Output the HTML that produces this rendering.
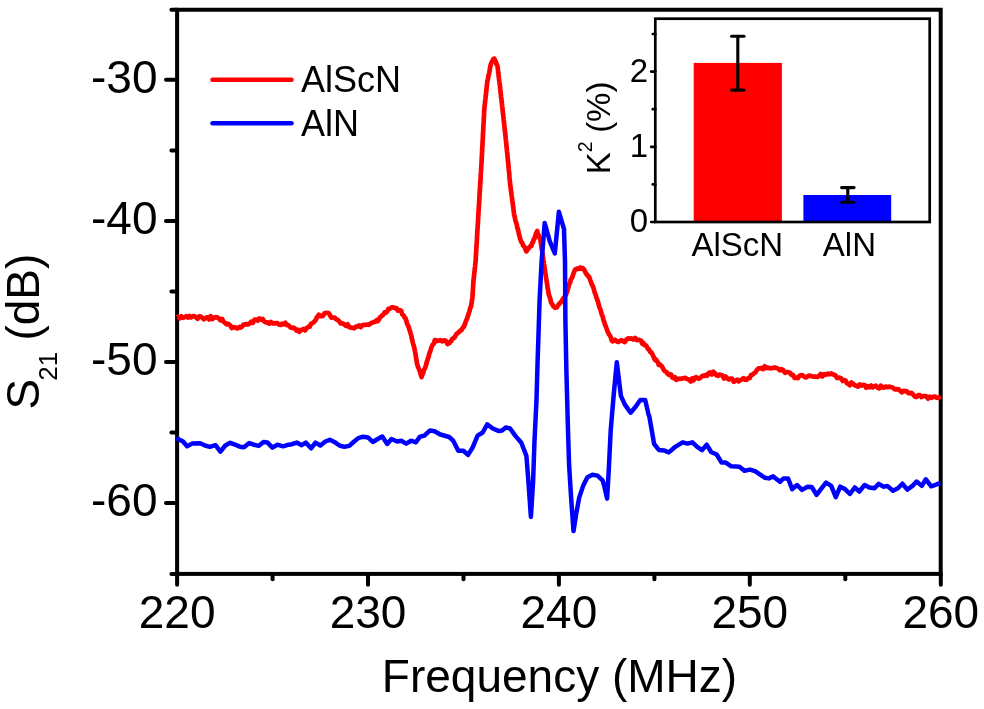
<!DOCTYPE html>
<html lang="en">
<head>
<meta charset="utf-8">
<title>S21 vs Frequency</title>
<style>
html,body{margin:0;padding:0;background:#fff;}
body{width:984px;height:709px;overflow:hidden;}
svg{display:block;font-family:"Liberation Sans",sans-serif;fill:#000;}
.ax line,.ax rect{stroke:#000;stroke-width:4;stroke-linecap:round;fill:none;}
.iax line,.iax rect{stroke:#000;stroke-width:2.7;stroke-linecap:round;fill:none;}
.iax .eb line{stroke-width:3.1;}
.t46{font-size:46px;}
.t36{font-size:36px;}
.t32{font-size:32px;}
.t33{font-size:33px;}
.crv{fill:none;stroke-width:4.5;stroke-linejoin:round;stroke-linecap:round;}
</style>
</head>
<body>
<svg width="984" height="709" viewBox="0 0 984 709">
<rect x="0" y="0" width="984" height="709" fill="#fff"/>

<!-- main axes -->
<g class="ax">
<rect x="177.1" y="9.75" width="763.6" height="564.15"/>
<line x1="177.1" y1="573.9" x2="177.1" y2="584.8"/><line x1="272.6" y1="573.9" x2="272.6" y2="579.2"/><line x1="368.0" y1="573.9" x2="368.0" y2="584.8"/><line x1="463.5" y1="573.9" x2="463.5" y2="579.2"/><line x1="558.9" y1="573.9" x2="558.9" y2="584.8"/><line x1="654.4" y1="573.9" x2="654.4" y2="579.2"/><line x1="749.8" y1="573.9" x2="749.8" y2="584.8"/><line x1="845.3" y1="573.9" x2="845.3" y2="579.2"/><line x1="940.8" y1="573.9" x2="940.8" y2="584.8"/><line x1="177.1" y1="573.9" x2="171.4" y2="573.9"/><line x1="177.1" y1="503.1" x2="166.0" y2="503.1"/><line x1="177.1" y1="432.5" x2="171.4" y2="432.5"/><line x1="177.1" y1="362.0" x2="166.0" y2="362.0"/><line x1="177.1" y1="291.5" x2="171.4" y2="291.5"/><line x1="177.1" y1="220.9" x2="166.0" y2="220.9"/><line x1="177.1" y1="150.4" x2="171.4" y2="150.4"/><line x1="177.1" y1="79.8" x2="166.0" y2="79.8"/><line x1="177.1" y1="9.8" x2="171.4" y2="9.8"/>
</g>
<g class="t46"><text x="177.1" y="628.2" text-anchor="middle">220</text><text x="368.0" y="628.2" text-anchor="middle">230</text><text x="558.9" y="628.2" text-anchor="middle">240</text><text x="749.8" y="628.2" text-anchor="middle">250</text><text x="940.8" y="628.2" text-anchor="middle">260</text><text x="157.5" y="92.6" text-anchor="end">-30</text><text x="157.5" y="233.7" text-anchor="end">-40</text><text x="157.5" y="374.8" text-anchor="end">-50</text><text x="157.5" y="515.9" text-anchor="end">-60</text>
<text x="559.5" y="692" text-anchor="middle">Frequency (MHz)</text>
<text transform="translate(38.6,409.5) rotate(-90)">S<tspan font-size="26" dy="18" dx="-2">21</tspan><tspan dy="-18" dx="-1.5"> (dB)</tspan></text>
</g>

<!-- data curves -->
<path class="crv" stroke="#ff0000" style="stroke-width:4.7;stroke-linecap:butt" d="M177.3,317.3 L178.1,316.7 L179.8,318.4 L181.4,316.3 L183.0,317.9 L184.6,317.2 L186.3,316.1 L187.9,317.7 L189.5,316.0 L191.1,317.4 L192.8,316.1 L194.4,316.2 L196.0,317.4 L197.6,318.8 L199.3,316.3 L200.9,316.6 L202.5,318.1 L204.1,319.3 L205.8,317.9 L207.4,317.3 L209.0,319.4 L210.7,316.1 L212.3,319.1 L213.9,317.5 L215.5,317.2 L217.2,317.4 L218.8,318.3 L220.4,320.3 L222.0,318.9 L223.1,321.0 L224.2,322.4 L225.3,323.0 L226.6,324.3 L227.9,323.8 L229.2,324.6 L230.5,325.8 L231.8,328.0 L233.4,327.4 L235.0,327.2 L236.7,328.3 L238.3,328.1 L239.6,326.9 L240.9,327.5 L242.2,326.5 L243.5,324.5 L244.8,324.7 L246.4,324.0 L248.0,324.5 L249.7,323.5 L251.3,321.6 L252.9,322.8 L254.6,319.5 L256.2,319.5 L257.8,320.7 L259.4,318.5 L261.1,319.7 L262.7,319.0 L264.3,321.5 L265.9,322.4 L267.6,322.4 L269.2,323.6 L270.8,321.9 L272.4,323.4 L274.1,323.2 L275.7,323.3 L277.3,323.0 L278.9,324.5 L280.6,325.0 L282.2,323.6 L283.8,324.4 L285.4,322.8 L287.1,325.2 L288.7,325.4 L290.3,327.4 L292.0,328.0 L293.6,327.6 L295.0,328.8 L296.4,330.5 L297.8,329.7 L299.3,331.8 L300.7,330.4 L302.2,329.6 L303.7,328.9 L305.1,330.4 L306.6,328.1 L307.7,327.3 L308.8,326.6 L309.8,326.7 L310.9,323.7 L312.0,323.5 L313.1,322.6 L314.0,322.1 L315.0,320.8 L315.9,319.7 L316.9,317.2 L317.8,316.2 L318.8,314.7 L320.7,316.2 L322.6,316.2 L324.5,313.2 L326.5,312.9 L328.5,313.0 L329.5,314.3 L330.4,316.1 L331.4,317.7 L333.0,317.5 L334.6,317.5 L336.3,319.4 L337.9,320.0 L339.2,321.4 L340.6,323.3 L342.0,323.4 L343.3,323.7 L344.7,324.8 L346.0,325.9 L347.6,324.2 L349.3,327.3 L350.9,327.4 L352.5,328.0 L354.1,328.3 L355.8,326.7 L357.4,326.6 L359.0,325.5 L360.7,327.2 L362.3,325.2 L363.9,324.8 L365.5,325.0 L367.2,324.5 L368.8,324.8 L370.4,323.7 L371.7,322.8 L373.0,322.5 L374.3,321.6 L375.6,321.6 L376.9,320.1 L378.0,321.0 L379.1,319.3 L380.2,317.1 L381.2,316.3 L382.3,315.4 L383.4,314.4 L384.6,312.4 L385.9,312.7 L387.1,311.6 L388.3,308.9 L389.9,308.9 L391.5,307.4 L393.2,307.4 L394.8,308.2 L396.4,308.1 L398.0,310.7 L399.7,310.0 L401.3,311.0 L402.1,314.2 L402.9,314.8 L403.7,315.5 L404.6,317.7 L405.4,318.1 L406.2,320.4 L406.7,322.5 L407.2,323.8 L407.7,325.0 L408.2,325.7 L408.7,327.3 L409.2,328.4 L409.7,330.8 L410.2,331.8 L410.6,333.6 L411.0,334.5 L411.4,335.9 L411.7,338.1 L412.1,339.8 L412.5,341.1 L412.8,342.5 L413.2,344.0 L413.6,345.4 L413.9,346.2 L414.3,348.1 L414.6,349.4 L414.9,350.6 L415.1,352.1 L415.4,353.8 L415.7,355.3 L415.9,357.2 L416.2,358.9 L416.5,359.9 L416.7,361.9 L417.0,363.4 L417.3,364.9 L417.6,365.7 L418.1,367.0 L418.7,368.5 L419.3,370.0 L419.9,371.5 L420.5,373.7 L421.0,375.6 L421.6,377.0 L422.2,375.0 L422.8,373.7 L423.4,372.4 L423.9,369.8 L424.5,369.2 L425.1,368.1 L425.7,366.3 L426.1,364.8 L426.6,362.9 L427.0,361.1 L427.5,360.4 L427.9,358.3 L428.4,357.5 L428.8,356.2 L429.2,354.0 L429.7,352.5 L430.1,351.8 L430.6,350.1 L431.3,347.6 L432.0,346.0 L432.7,344.5 L433.4,344.3 L434.1,342.7 L434.8,340.0 L435.4,340.1 L437.1,341.1 L438.7,340.6 L440.3,340.2 L442.0,341.4 L443.8,340.4 L445.6,340.5 L447.4,344.0 L449.3,343.2 L450.3,341.6 L451.3,341.1 L452.3,338.7 L453.3,338.4 L454.8,337.1 L456.2,334.3 L457.6,333.2 L459.0,332.1 L460.2,330.6 L461.5,330.0 L462.7,327.8 L463.9,326.8 L464.4,324.9 L464.9,324.7 L465.4,322.4 L465.9,321.2 L466.4,319.9 L467.0,319.0 L467.5,316.8 L468.0,316.1 L468.5,313.9 L469.1,312.3 L469.6,310.7 L470.1,308.3 L470.7,307.3 L471.2,305.5 L471.4,303.8 L471.7,302.8 L471.9,300.8 L472.1,299.4 L472.3,298.0 L472.5,296.3 L472.6,294.6 L472.7,293.0 L472.8,291.4 L472.9,289.9 L473.0,288.0 L473.1,286.5 L473.2,284.8 L473.3,283.2 L473.4,281.7 L473.5,280.0 L473.7,278.5 L473.9,277.1 L474.0,275.7 L474.2,273.8 L474.4,272.4 L474.6,270.8 L474.7,269.3 L474.9,267.9 L475.1,266.2 L475.2,264.7 L475.4,263.1 L475.6,261.8 L475.7,260.2 L475.8,258.7 L475.8,257.2 L475.9,255.4 L476.0,254.0 L476.1,252.6 L476.2,251.0 L476.3,249.2 L476.4,247.6 L476.5,246.2 L476.6,244.5 L476.7,243.0 L476.8,241.4 L476.9,240.1 L477.0,238.6 L477.0,237.1 L477.1,235.3 L477.2,234.0 L477.3,232.4 L477.4,230.7 L477.5,229.4 L477.6,227.9 L477.7,226.1 L477.8,224.8 L477.9,223.1 L478.0,221.6 L478.1,220.2 L478.2,218.6 L478.2,216.8 L478.3,215.4 L478.4,213.9 L478.5,212.3 L478.6,210.7 L478.7,209.2 L478.8,207.8 L478.9,206.0 L479.0,204.7 L479.1,203.1 L479.2,201.4 L479.3,200.0 L479.4,198.5 L479.4,197.0 L479.5,195.2 L479.6,194.1 L479.7,192.4 L479.8,191.0 L479.9,189.1 L480.0,187.6 L480.1,186.0 L480.2,184.7 L480.3,183.0 L480.4,181.4 L480.5,180.0 L480.6,178.6 L480.7,177.1 L480.7,175.3 L480.8,173.7 L480.9,172.5 L481.0,170.8 L481.1,169.3 L481.2,167.5 L481.3,166.0 L481.4,164.7 L481.5,163.1 L481.6,161.4 L481.7,160.1 L481.7,158.5 L481.8,157.0 L481.9,155.2 L482.0,154.0 L482.1,152.1 L482.1,150.9 L482.2,149.2 L482.3,147.6 L482.4,146.1 L482.5,144.7 L482.5,143.0 L482.6,141.4 L482.7,140.0 L482.8,138.3 L482.9,136.7 L482.9,135.2 L483.0,133.6 L483.1,132.1 L483.2,130.6 L483.3,129.1 L483.3,127.7 L483.4,126.0 L483.5,124.5 L483.6,122.9 L483.7,121.4 L483.7,119.7 L483.8,118.3 L483.9,116.7 L484.0,115.4 L484.1,113.7 L484.1,112.1 L484.2,110.6 L484.3,109.4 L484.5,107.3 L484.6,106.2 L484.8,104.4 L485.0,102.9 L485.1,101.5 L485.3,99.7 L485.5,98.2 L485.6,96.8 L485.8,95.4 L486.0,93.5 L486.2,92.2 L486.3,90.6 L486.5,89.0 L486.7,87.3 L486.8,85.7 L487.0,84.0 L487.2,82.3 L487.5,80.7 L487.8,79.9 L488.1,77.9 L488.4,76.2 L488.7,74.6 L489.0,73.9 L489.3,72.4 L489.6,70.7 L489.9,68.7 L490.2,67.2 L490.5,65.7 L490.8,64.3 L491.7,62.1 L492.5,61.0 L493.4,59.1 L494.3,58.6 L494.8,60.0 L495.4,60.8 L495.9,61.8 L496.4,64.3 L497.0,64.7 L497.5,66.3 L497.7,67.6 L497.9,69.5 L498.1,71.1 L498.3,72.7 L498.5,74.0 L498.6,75.8 L498.8,77.0 L499.0,78.8 L499.2,80.2 L499.4,82.0 L499.6,83.3 L499.8,84.9 L500.0,86.6 L500.1,88.1 L500.3,89.9 L500.5,91.4 L500.7,93.1 L500.9,94.6 L501.0,96.2 L501.2,97.9 L501.4,99.1 L501.6,100.6 L501.8,102.6 L501.9,103.6 L502.1,105.6 L502.3,107.1 L502.5,108.2 L502.6,110.3 L502.8,111.9 L503.0,113.3 L503.2,114.8 L503.3,116.4 L503.5,117.4 L503.6,119.2 L503.8,120.7 L504.0,122.4 L504.1,123.8 L504.3,125.4 L504.5,126.7 L504.6,128.4 L504.8,129.8 L504.9,131.3 L505.1,132.5 L505.3,133.8 L505.4,135.4 L505.6,137.0 L505.7,138.4 L505.9,140.3 L506.1,141.7 L506.2,143.3 L506.4,144.8 L506.5,146.4 L506.7,147.9 L506.8,149.1 L507.0,151.2 L507.2,152.7 L507.3,154.1 L507.5,155.7 L507.6,157.4 L507.8,158.6 L507.9,160.5 L508.1,161.8 L508.2,163.3 L508.4,165.0 L508.5,166.8 L508.7,168.1 L508.8,169.9 L509.0,171.6 L509.1,172.9 L509.3,174.4 L509.4,176.1 L509.5,177.7 L509.7,179.3 L509.8,180.8 L510.0,182.4 L510.1,183.6 L510.3,185.2 L510.5,186.8 L510.7,188.7 L510.9,190.0 L511.1,191.7 L511.3,192.8 L511.5,194.4 L511.7,196.1 L512.0,198.0 L512.2,199.5 L512.4,201.1 L512.6,202.3 L512.8,204.0 L513.0,205.6 L513.2,207.1 L513.4,208.4 L513.6,210.5 L513.8,211.6 L514.0,213.7 L514.2,215.4 L514.6,215.8 L514.9,217.9 L515.3,219.8 L515.7,221.5 L516.1,222.4 L516.5,223.7 L516.9,225.2 L517.2,227.6 L517.6,228.3 L518.0,230.2 L518.4,231.2 L518.8,233.2 L519.1,235.2 L519.5,235.8 L519.9,238.1 L520.3,239.3 L521.0,241.3 L521.6,242.3 L522.3,242.8 L523.0,245.4 L523.7,246.0 L524.3,246.5 L525.0,247.9 L525.7,250.1 L526.4,251.4 L527.4,249.8 L528.4,248.2 L529.4,247.5 L530.4,246.2 L531.5,245.9 L532.0,243.1 L532.6,242.9 L533.2,241.6 L533.7,239.1 L534.3,238.9 L534.9,237.2 L535.4,236.0 L536.0,233.6 L536.6,232.4 L537.2,231.0 L537.6,233.3 L538.1,234.2 L538.6,235.3 L539.1,236.8 L539.6,238.1 L540.1,239.2 L540.6,241.0 L540.8,243.1 L541.1,244.2 L541.3,246.4 L541.5,247.3 L541.8,248.9 L542.0,250.7 L542.3,252.0 L542.5,253.7 L542.7,255.8 L543.0,257.3 L543.2,258.8 L543.4,260.2 L543.7,262.0 L543.9,263.6 L544.1,264.8 L544.4,266.5 L544.6,267.5 L544.8,269.6 L545.1,271.0 L545.3,272.8 L545.5,274.3 L545.8,275.5 L546.0,276.9 L546.2,279.2 L546.5,280.1 L546.7,281.9 L547.0,283.3 L547.2,284.8 L547.5,286.8 L547.7,288.5 L548.0,289.4 L548.2,291.3 L548.5,292.5 L548.7,294.3 L549.2,295.5 L549.6,296.7 L550.0,298.1 L550.5,299.6 L550.9,302.0 L551.4,302.9 L551.8,303.6 L553.5,306.5 L555.2,307.8 L556.9,307.3 L557.9,305.4 L558.9,304.3 L559.9,302.9 L560.9,302.2 L562.0,300.6 L562.8,299.3 L563.6,297.8 L564.5,296.9 L565.3,296.0 L566.2,294.2 L567.0,292.1 L567.5,290.6 L567.9,289.3 L568.3,287.6 L568.8,286.1 L569.2,284.3 L569.6,283.1 L570.1,282.7 L570.7,279.8 L571.4,278.9 L572.0,277.6 L572.6,276.4 L573.3,273.9 L573.9,272.4 L574.5,270.9 L575.2,269.5 L576.9,268.6 L578.6,269.0 L580.2,267.5 L581.5,268.9 L582.8,268.1 L584.1,269.4 L585.3,272.2 L586.2,273.9 L587.0,274.4 L587.9,276.0 L588.7,276.2 L589.6,278.3 L590.4,280.6 L590.9,281.8 L591.4,283.3 L591.9,284.9 L592.4,285.2 L592.9,286.4 L593.5,287.9 L594.0,289.9 L594.5,291.6 L595.0,293.4 L595.5,294.5 L595.9,295.8 L596.4,297.5 L596.9,298.5 L597.3,300.2 L597.8,300.9 L598.3,303.4 L598.7,304.2 L599.2,306.6 L599.6,307.7 L600.1,308.7 L600.6,310.0 L601.0,311.6 L601.5,313.6 L602.0,315.2 L602.4,315.9 L602.9,317.3 L603.3,319.4 L603.8,320.9 L604.3,322.2 L604.7,323.4 L605.2,325.4 L605.7,325.9 L606.3,327.8 L606.9,329.5 L607.6,331.7 L608.2,332.5 L608.9,334.3 L609.5,335.0 L610.2,336.0 L610.8,337.4 L611.5,340.0 L612.1,341.0 L612.8,341.4 L615.0,339.8 L616.7,341.4 L618.3,341.9 L620.0,340.9 L621.6,340.1 L623.3,341.3 L624.9,342.0 L626.5,339.5 L628.1,338.3 L629.8,338.7 L631.4,338.4 L633.2,339.5 L635.0,337.9 L636.9,340.1 L638.7,339.8 L639.8,340.2 L641.0,340.5 L642.1,343.5 L643.3,342.9 L644.4,345.1 L645.5,345.1 L646.7,346.4 L647.8,348.9 L648.9,349.1 L650.1,351.8 L650.9,352.2 L651.7,353.0 L652.5,354.4 L653.3,356.2 L654.1,358.0 L655.0,360.0 L655.9,359.5 L656.9,361.2 L657.8,362.1 L658.8,364.9 L659.7,364.3 L660.7,365.2 L661.8,366.3 L663.0,368.2 L664.1,370.5 L665.3,371.5 L666.5,372.1 L667.6,373.8 L668.8,374.8 L670.0,374.2 L671.2,374.7 L672.4,377.6 L673.7,378.1 L674.9,377.2 L676.1,379.9 L677.9,378.9 L679.8,378.9 L681.6,378.7 L683.4,378.2 L685.2,377.9 L687.1,379.0 L688.9,379.5 L690.7,381.5 L692.2,378.4 L693.6,380.3 L695.0,377.5 L696.4,377.2 L698.0,378.6 L699.7,378.4 L701.3,376.9 L702.9,375.6 L704.4,376.0 L705.9,374.9 L707.3,375.7 L708.8,372.8 L710.2,372.4 L711.9,374.4 L713.5,371.8 L715.1,373.4 L716.5,375.3 L718.0,375.9 L719.4,374.5 L720.8,375.0 L722.4,375.4 L724.1,378.5 L725.7,376.6 L727.3,378.5 L728.9,379.5 L730.6,378.5 L732.2,378.9 L733.8,381.8 L735.4,380.7 L737.1,379.6 L738.7,381.3 L740.3,380.1 L742.0,379.4 L743.6,378.1 L745.2,379.9 L746.8,379.7 L748.3,378.1 L749.7,378.2 L751.1,374.8 L752.5,374.7 L753.6,373.6 L754.7,373.0 L755.8,371.8 L757.2,369.5 L758.6,368.4 L760.0,368.4 L761.5,367.9 L763.1,369.1 L764.7,366.3 L766.3,368.1 L768.0,367.6 L769.6,368.2 L771.2,368.3 L772.8,368.0 L774.5,367.4 L776.3,367.9 L778.2,368.6 L780.0,370.4 L781.6,369.2 L783.3,370.3 L784.9,372.8 L786.5,372.1 L788.1,372.2 L789.8,372.7 L791.4,375.0 L793.0,374.9 L794.6,377.8 L796.3,377.6 L797.9,378.1 L799.5,375.7 L801.1,375.2 L802.8,375.4 L804.4,376.9 L806.0,377.5 L807.6,376.4 L809.3,375.5 L810.9,376.0 L812.5,376.5 L814.1,376.6 L815.8,376.7 L817.4,376.9 L819.0,376.1 L820.7,374.1 L822.3,376.4 L824.1,374.2 L825.9,374.7 L827.8,373.7 L829.6,374.4 L831.1,373.4 L832.5,374.2 L834.0,374.9 L835.4,375.2 L836.9,378.0 L838.4,377.8 L839.8,377.7 L841.3,378.6 L842.8,381.0 L844.2,380.2 L845.6,380.6 L846.9,383.1 L848.3,383.9 L849.9,385.3 L851.5,382.5 L853.2,383.9 L854.8,385.2 L856.4,385.8 L858.0,386.6 L859.7,384.4 L861.3,385.6 L862.9,384.9 L864.6,385.1 L866.2,387.7 L867.8,386.2 L869.4,387.3 L871.1,385.6 L872.7,387.4 L874.3,386.2 L875.9,385.7 L877.6,387.6 L879.2,388.4 L880.8,385.6 L882.4,387.5 L884.1,387.7 L885.7,386.5 L887.3,387.2 L888.9,386.6 L890.6,387.0 L892.2,387.3 L893.8,388.6 L895.4,389.5 L897.1,389.1 L898.7,389.3 L900.3,391.0 L902.0,392.3 L903.6,390.8 L905.2,391.4 L906.8,391.2 L908.5,393.2 L909.8,393.3 L911.1,392.8 L912.4,393.7 L913.7,395.3 L915.0,396.6 L916.6,396.9 L918.2,395.0 L919.8,395.2 L921.5,397.1 L923.1,396.1 L924.7,396.0 L926.3,396.3 L928.0,398.7 L929.6,396.8 L931.2,397.9 L933.0,396.9 L934.9,396.6 L936.7,397.7 L938.5,397.8 L940.6,396.2"/>
<path class="crv" stroke="#0000ff" style="stroke-linecap:butt" d="M177.0,437.2 L178.1,439.0 L183.0,441.5 L187.1,446.3 L192.0,443.6 L200.1,443.3 L205.0,445.5 L209.8,446.8 L215.5,445.2 L220.4,451.7 L225.3,445.5 L230.2,442.8 L235.0,444.7 L239.9,446.7 L244.0,447.2 L249.2,443.1 L253.7,444.7 L258.6,445.9 L263.5,442.0 L267.6,442.6 L272.4,447.6 L277.3,444.7 L283.0,446.3 L288.7,444.7 L292.0,444.2 L296.8,442.6 L301.7,445.2 L305.8,442.6 L311.1,448.3 L315.5,442.6 L320.4,445.5 L325.3,441.5 L329.8,439.8 L335.4,442.6 L339.5,445.5 L344.4,446.8 L349.3,445.9 L354.1,441.5 L358.2,438.2 L363.1,436.7 L368.0,437.4 L372.8,442.0 L377.7,439.0 L382.3,436.6 L387.2,443.9 L391.5,439.0 L397.2,441.5 L401.3,440.7 L406.2,443.6 L411.1,440.7 L415.9,442.3 L420.0,436.6 L424.1,435.8 L429.8,430.6 L434.6,431.2 L440.3,434.5 L449.1,437.0 L453.2,440.7 L458.3,450.8 L463.4,450.8 L468.0,454.9 L472.5,447.8 L477.6,435.6 L482.7,432.5 L487.2,424.4 L492.8,428.5 L498.9,431.1 L502.0,430.5 L506.1,427.4 L510.1,428.5 L515.2,435.6 L521.3,442.7 L526.4,455.9 L528.4,481.3 L530.9,516.9 L533.1,481.3 L534.5,440.7 L536.5,400.0 L537.6,361.3 L539.6,300.3 L541.6,261.6 L544.7,223.0 L549.8,241.3 L554.8,253.5 L558.9,211.8 L564.0,229.1 L565.0,261.6 L565.4,320.7 L566.4,371.5 L568.0,430.5 L569.1,465.0 L571.1,497.6 L573.5,531.1 L576.2,513.8 L579.2,497.6 L583.3,485.4 L587.4,477.2 L592.4,474.8 L597.5,475.6 L602.6,480.3 L604.6,487.4 L607.1,498.6 L608.7,471.1 L610.7,430.5 L613.8,393.8 L616.8,362.3 L620.9,395.9 L624.9,404.6 L630.6,412.7 L635.4,407.0 L640.3,400.0 L645.2,400.0 L648.5,414.3 L649.3,416.3 L654.1,443.9 L659.0,450.1 L663.9,450.4 L668.8,452.4 L675.3,446.8 L682.6,442.3 L687.5,443.6 L692.4,442.3 L697.2,446.8 L702.1,450.1 L706.7,444.7 L711.1,452.0 L716.7,454.5 L721.6,462.6 L725.7,462.6 L731.4,466.3 L739.5,466.7 L744.4,470.7 L750.1,469.6 L755.0,471.2 L764.7,477.7 L768.8,478.4 L773.2,476.4 L780.0,481.8 L783.3,478.5 L788.1,478.5 L792.2,489.1 L797.1,485.0 L802.0,489.9 L807.6,486.7 L811.7,487.0 L816.6,494.8 L821.5,488.3 L826.0,482.6 L831.2,485.9 L835.8,497.2 L840.2,486.7 L845.0,489.1 L849.9,494.0 L854.8,487.5 L859.3,491.5 L864.6,485.0 L869.4,487.5 L874.3,488.3 L878.7,483.9 L883.3,486.7 L887.3,485.9 L893.0,490.7 L897.9,488.3 L902.4,483.7 L907.3,489.6 L912.5,485.9 L916.6,481.5 L921.8,485.9 L925.9,479.3 L931.2,486.3 L936.1,484.7 L938.5,483.7 L940.6,483.6"/>

<!-- legend -->
<g class="crv">
<line x1="212.5" y1="79.7" x2="291.5" y2="79.7" stroke="#ff0000"/>
<line x1="212.5" y1="123.3" x2="291.5" y2="123.3" stroke="#0000ff"/>
</g>
<g class="t36">
<text x="301" y="92.4">AlScN</text>
<text x="301" y="135.6">AlN</text>
</g>

<!-- inset -->
<rect x="655.3" y="18.7" width="274.4" height="203.3" fill="#fff"/>
<rect x="693.7" y="62.9" width="88.2" height="159.1" fill="#ff0000"/>
<rect x="803.4" y="195" width="87.8" height="27.0" fill="#0000ff"/>
<g class="iax">
<rect x="655.3" y="18.7" width="274.4" height="203.3"/>
<line x1="655.3" y1="222.0" x2="651.2" y2="222.0"/><line x1="655.3" y1="184.4" x2="652.8" y2="184.4"/><line x1="655.3" y1="146.8" x2="651.2" y2="146.8"/><line x1="655.3" y1="109.2" x2="652.8" y2="109.2"/><line x1="655.3" y1="71.6" x2="651.2" y2="71.6"/><line x1="655.3" y1="34.0" x2="652.8" y2="34.0"/>
<g class="eb"><line x1="737.8" y1="36.3" x2="737.8" y2="90.1"/><line x1="731.6" y1="36.3" x2="744" y2="36.3"/><line x1="731.6" y1="90.1" x2="744" y2="90.1"/>
<line x1="847.8" y1="187.6" x2="847.8" y2="202.3"/><line x1="841.6" y1="187.6" x2="854" y2="187.6"/><line x1="841.6" y1="202.3" x2="854" y2="202.3"/></g>
</g>
<g class="t33"><text x="648.2" y="232.0" text-anchor="end">0</text><text x="648.2" y="156.8" text-anchor="end">1</text><text x="648.2" y="81.6" text-anchor="end">2</text>
<text transform="translate(610,174.3) rotate(-90)">K<tspan font-size="19.5" dy="-17.6">2</tspan><tspan dy="17.6" dx="-0.6"> (%)</tspan></text>
</g>
<g class="t33">
<text x="737.3" y="256.3" text-anchor="middle">AlScN</text>
<text x="849.4" y="256.3" text-anchor="middle">AlN</text>
</g>
</svg>
</body>
</html>
